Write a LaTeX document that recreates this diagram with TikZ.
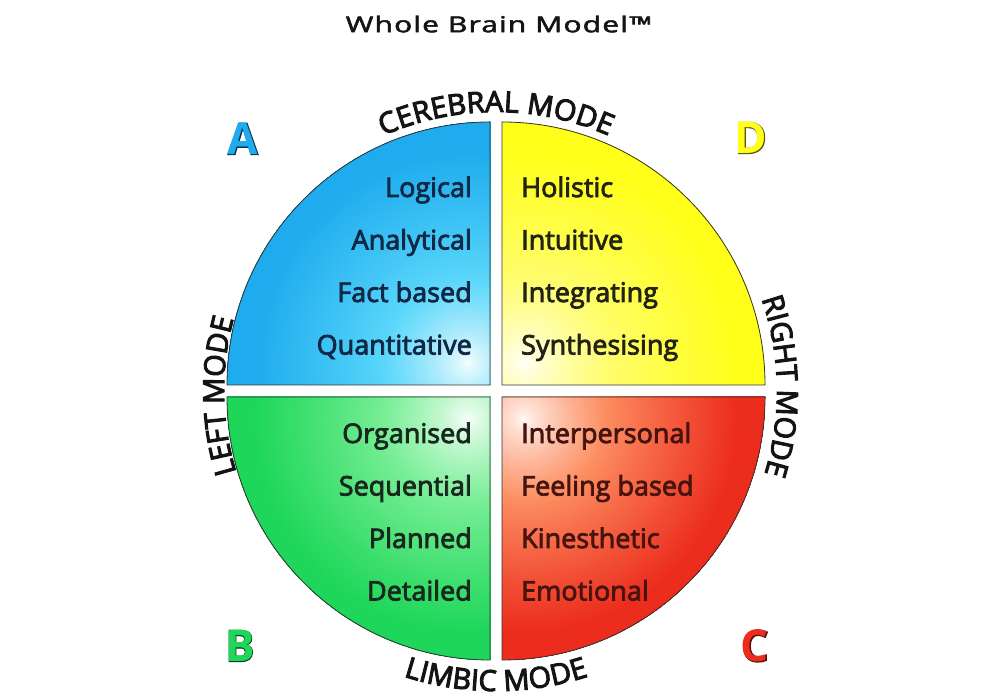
\documentclass[tikz,border=0pt]{standalone}
\usepackage{fontspec}
\setmainfont{Open Sans}
\newfontfamily\titlefont[LetterSpace=4,FakeBold=2]{Open Sans}
\newfontfamily\qfont[FakeBold=3]{Open Sans}
\newfontfamily\afont[FakeBold=3.5]{Open Sans}
\newfontfamily\strokefont[FakeBold=2.2]{Open Sans}
\usetikzlibrary{decorations.text}
\definecolor{qblue}{RGB}{30,172,238}
\definecolor{qbluem}{RGB}{90,215,250}
\definecolor{qyel}{RGB}{255,255,25}
\definecolor{qyelm}{RGB}{255,253,110}
\definecolor{qgreen}{RGB}{30,215,90}
\definecolor{qgreenm}{RGB}{120,238,150}
\definecolor{qred}{RGB}{236,45,30}
\definecolor{qredm}{RGB}{252,140,95}
\definecolor{tblue}{RGB}{15,40,70}
\definecolor{tyel}{RGB}{35,35,20}
\definecolor{tgreen}{RGB}{25,40,30}
\definecolor{tred}{RGB}{70,20,15}
\definecolor{ink}{RGB}{20,20,20}
\newcommand\quadshade[4]{%
  \foreach \i in {110,109,...,1}{%
    \pgfmathsetmacro\qR{\i*3}%
    \pgfmathsetmacro\qF{min(1,(\qR/215)^0.75)}%
    \pgfmathsetmacro\qA{min(100,\qF*200)}%
    \pgfmathsetmacro\qB{max(0,\qF*200-100)}%
    \fill[#4!\qB!#3!\qA!white] (#1,#2) circle[radius=\qR];
  }}
\newcommand\arcfont{\afont\fontsize{29}{34}\selectfont}
\begin{document}
\begin{tikzpicture}[x=1pt,y=1pt,
  qtext/.style={inner sep=0pt,font=\qfont\fontsize{27}{32}\selectfont},
  qline/.style={draw=black!80,line width=0.8pt},
  bigletter/.style={inner sep=0pt,font=\fontsize{44}{50}\selectfont\bfseries}]
\useasboundingbox (0,0) rectangle (999,699);
\fill[white] (0,0) rectangle (999,699);
\coordinate (ctr) at (496,308);
% quadrants
\begin{scope}
  \clip (490,314) -- (227,314) arc[start angle=180,end angle=90,radius=263] -- cycle;
  \quadshade{468}{336}{qbluem}{qblue}
\end{scope}
\begin{scope}
  \clip (502,314) -- (502,577) arc[start angle=90,end angle=0,radius=263] -- cycle;
  \quadshade{524}{336}{qyelm}{qyel}
\end{scope}
\begin{scope}
  \clip (490,302) -- (227,302) arc[start angle=180,end angle=270,radius=263] -- cycle;
  \quadshade{468}{280}{qgreenm}{qgreen}
\end{scope}
\begin{scope}
  \clip (502,302) -- (765,302) arc[start angle=0,end angle=-90,radius=263] -- cycle;
  \quadshade{524}{280}{qredm}{qred}
\end{scope}
\draw[qline] (490,314) -- (227,314) arc[start angle=180,end angle=90,radius=263] -- cycle;
\draw[qline] (502,314) -- (502,577) arc[start angle=90,end angle=0,radius=263] -- cycle;
\draw[qline] (490,302) -- (227,302) arc[start angle=180,end angle=270,radius=263] -- cycle;
\draw[qline] (502,302) -- (765,302) arc[start angle=0,end angle=-90,radius=263] -- cycle;
% title
\node[inner sep=0pt,text=ink] (title) at (499,675)
  {\titlefont\fontsize{22}{26}\selectfont\scalebox{1.36}[1]{Whole Brain Model™}};
% quadrant texts
\node[qtext,text=tblue,anchor=base east] (a1) at (472,502) {Logical};
\node[qtext,text=tblue,anchor=base east] (a2) at (472,449.5) {Analytical};
\node[qtext,text=tblue,anchor=base east] (a3) at (472,397) {Fact based};
\node[qtext,text=tblue,anchor=base east] (a4) at (472,344.5) {Quantitative};
\node[qtext,text=tyel,anchor=base west] (d1) at (521,502) {Holistic};
\node[qtext,text=tyel,anchor=base west] (d2) at (521,449.5) {Intuitive};
\node[qtext,text=tyel,anchor=base west] (d3) at (521,397) {Integrating};
\node[qtext,text=tyel,anchor=base west] (d4) at (521,344.5) {Synthesising};
\node[qtext,text=tgreen,anchor=base east] (b1) at (472,256) {Organised};
\node[qtext,text=tgreen,anchor=base east] (b2) at (472,203.5) {Sequential};
\node[qtext,text=tgreen,anchor=base east] (b3) at (472,151) {Planned};
\node[qtext,text=tgreen,anchor=base east] (b4) at (472,98.5) {Detailed};
\node[qtext,text=tred,anchor=base west] (c1) at (521,256) {Interpersonal};
\node[qtext,text=tred,anchor=base west] (c2) at (521,203.5) {Feeling based};
\node[qtext,text=tred,anchor=base west] (c3) at (521,151) {Kinesthetic};
\node[qtext,text=tred,anchor=base west] (c4) at (521,98.5) {Emotional};
% corner letters
\node[bigletter,text=black!70!qblue] (Ao) at (243,560) {\strokefont A};
\node[bigletter,text=qblue] (A) at (243,560) {A};
\node[bigletter,text=black!65!qyel] (Do) at (751,561) {\strokefont D};
\node[bigletter,text=qyel] (D) at (751,561) {D};
\node[bigletter,text=black!70!qgreen] (Bo) at (240,53) {\strokefont B};
\node[bigletter,text=qgreen] (B) at (240,53) {B};
\node[bigletter,text=black!65!qred] (Co) at (755,53) {\strokefont C};
\node[bigletter,text=qred] (C) at (755,53) {C};
% curved labels
\path[decorate,decoration={text along path,text align=center,
  text={|\arcfont\color{ink}|CEREBRAL MODE}}]
  ([shift={(125:279)}]ctr) arc[start angle=125,end angle=55,radius=279];
\path[decorate,decoration={text along path,text align=center,
  text={|\arcfont\color{ink}|LEFT MODE}}]
  ([shift={(216:272)}]ctr) arc[start angle=216,end angle=146,radius=272];
\path[decorate,decoration={text along path,text align=center,
  text={|\arcfont\color{ink}|RIGHT MODE}}]
  ([shift={(41:281)}]ctr) arc[start angle=41,end angle=-39,radius=281];
\path[decorate,decoration={text along path,text align=center,
  text={|\arcfont\color{ink}|LIMBIC MODE}}]
  ([shift={(235:300)}]ctr) arc[start angle=235,end angle=305,radius=300];
\end{tikzpicture}
\end{document}
